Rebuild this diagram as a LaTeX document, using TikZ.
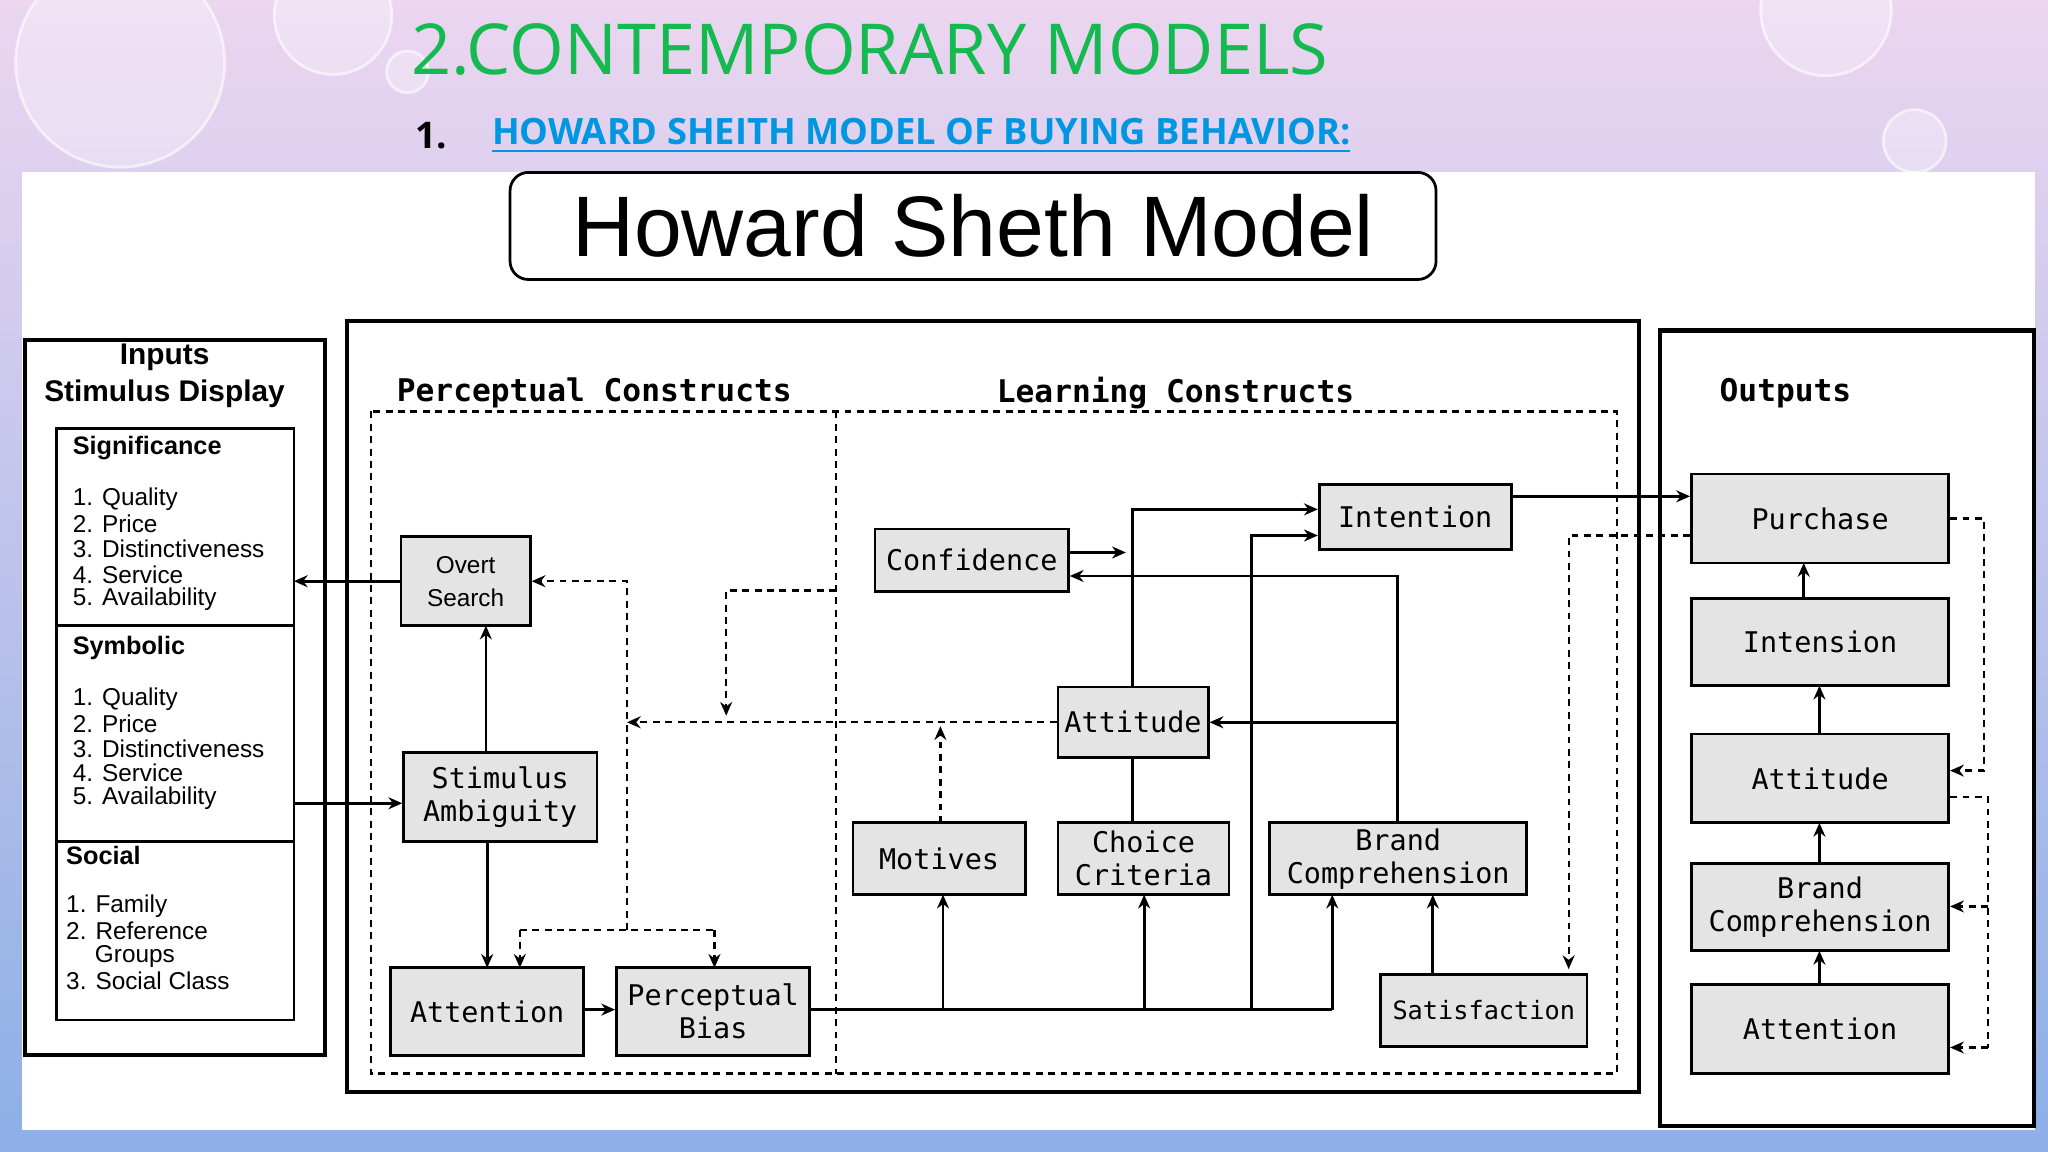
\documentclass[tikz,border=0pt]{standalone}
\usepackage{fontspec}
\setmainfont{Liberation Sans}
\newfontfamily\osans{Open Sans}
\newfontfamily\dmono{DejaVu Sans Mono}
\usetikzlibrary{arrows.meta}
\definecolor{titlegreen}{RGB}{20,185,80}
\definecolor{linkblue}{RGB}{0,150,225}
\definecolor{boxgray}{RGB}{228,228,228}
\newcommand\bx[6]{\node[box,minimum width={(#4-#2)*0.01cm},minimum height={(#5-#3)*0.01cm}] (#1) at ({(#2+#4)/2},{(#3+#5)/2}) {#6};}
\begin{document}
\begin{tikzpicture}[x=0.01cm,y=-0.01cm,
  box/.style={draw,fill=boxgray,line width=0.6pt,inner sep=0pt,align=center,font=\dmono\fontsize{6.2}{7.2}\selectfont},
  frame/.style={draw,line width=0.9pt},
  dsh/.style={line width=0.5pt,dash pattern=on 1.5pt off 1.2pt},
  ar/.style={line width=0.6pt,-{Stealth[length=3pt,width=2.6pt]}},
  dar/.style={ar,dsh},
  ln/.style={line width=0.6pt},
  item/.style={anchor=west,inner sep=0pt,font=\fontsize{5.3}{6}\selectfont},
  hdr/.style={anchor=west,inner sep=0pt,font=\bfseries\fontsize{5.5}{6}\selectfont},
  bubble/.style={fill=white,fill opacity=0.3,draw=white,draw opacity=0.6,line width=0.6pt}]
\useasboundingbox (0,0) rectangle (1568,882);
\shade[top color={rgb,255:red,236;green,214;blue,240},bottom color={rgb,255:red,140;green,175;blue,230}] (0,0) rectangle (1568,882);
\fill[bubble] (92,48) circle (80);
\fill[bubble] (255,12) circle (45);
\fill[bubble] (312,55) circle (16);
\fill[bubble] (1398,8) circle (50);
\fill[bubble] (1466,108) circle (24);
\fill[white] (17,132) rectangle (1558,865);
% titles
\node[inner sep=0pt,text=titlegreen,font=\osans\fontsize{15.3}{17}\selectfont] (t1) at (666,38) {2.CONTEMPORARY MODELS};
\node[inner sep=0pt,font=\osans\bfseries\fontsize{8}{9}\selectfont] (n1) at (330,104) {1.};
\node[anchor=west,inner sep=0pt,text=linkblue,font=\osans\bfseries\fontsize{7.9}{9}\selectfont] (t2) at (376,104) {\underline{HOWARD SHEITH MODEL OF BUYING BEHAVIOR:}};
\node[draw,rounded corners=4pt,line width=0.6pt,minimum width=709*0.01cm,minimum height=82*0.01cm,font=\fontsize{18.7}{20}\selectfont] (hs) at (745,173) {Howard Sheth Model};
% frames
\draw[frame] (19,260) rectangle (249,808);
\draw[frame] (266,246) rectangle (1255,836);
\draw[frame] (1271,253) rectangle (1557,862);
\node[inner sep=0pt,font=\bfseries\fontsize{6.5}{7}\selectfont,align=center] (inh) at (126,288) {Inputs\\[1pt]Stimulus Display};
\draw[line width=0.6pt] (43,328) rectangle (225,781);
\coordinate (inR1) at (225,445);
\coordinate (inR2) at (225,615);
\draw[line width=0.6pt] (43,479) -- (225,479) (43,644) -- (225,644);
\node[hdr] (h1) at (55,343) {Significance};
\node[item] at (55,382) {1. Quality};
\node[item] at (55,401) {2. Price};
\node[item] at (55,420) {3. Distinctiveness};
\node[item] at (55,440) {4. Service};
\node[item] at (55,459) {5. Availability};
\node[hdr] (h2) at (55,496) {Symbolic};
\node[item] at (55,535) {1. Quality};
\node[item] at (55,554) {2. Price};
\node[item] at (55,573) {3. Distinctiveness};
\node[item] at (55,592) {4. Service};
\node[item] at (55,611) {5. Availability};
\node[hdr] (h3) at (50,655) {Social};
\node[item] at (50,694) {1. Family};
\node[item] at (50,713) {2. Reference};
\node[item] at (72,732) {Groups};
\node[item] at (50,751) {3. Social Class};
% dashed inner
\draw[dsh] (284,315) rectangle (1238,822);
\draw[dsh] (640,315) -- (640,822);
\node[inner sep=0pt,font=\dmono\bfseries\fontsize{6.8}{7}\selectfont] (pc) at (455,301) {Perceptual Constructs};
\node[inner sep=0pt,font=\dmono\bfseries\fontsize{6.8}{7}\selectfont] (lc) at (900,301) {Learning Constructs};
\node[inner sep=0pt,font=\dmono\bfseries\fontsize{6.8}{7}\selectfont] (oc) at (1367,301) {Outputs};
% boxes
\bx{os}{307}{411}{406}{479}{\fontsize{5.3}{6}\selectfont\rmfamily Overt\\\fontsize{5.3}{6}\selectfont\rmfamily Search}
\bx{sa}{309}{576}{457}{644}{Stimulus\\Ambiguity}
\bx{at}{299}{741}{447}{808}{Attention}
\bx{pb}{472}{741}{620}{808}{Perceptual\\Bias}
\bx{cf}{670}{405}{818}{453}{Confidence}
\bx{in}{1010}{371}{1157}{421}{Intention}
\bx{au}{810}{526}{925}{580}{Attitude}
\bx{mo}{653}{630}{785}{685}{Motives}
\bx{cc}{810}{630}{941}{685}{Choice\\Criteria}
\bx{bc}{972}{630}{1169}{685}{Brand\\Comprehension}
\bx{sf}{1057}{746}{1215}{801}{\fontsize{5.5}{6}\selectfont Satisfaction}
\bx{pu}{1295}{363}{1492}{431}{Purchase}
\bx{oi}{1295}{458}{1492}{525}{Intension}
\bx{oa}{1295}{562}{1492}{630}{Attitude}
\bx{ob}{1295}{661}{1492}{728}{Brand\\Comprehension}
\bx{ot}{1295}{754}{1492}{822}{Attention}
% perceptual arrows
\draw[ar] (os.west |- inR1) -- (inR1);
\draw[ar] (inR2) -- (sa.west |- inR2);
\draw[ar] (372,576) -- (372,479);
\draw[ar] (373,644) -- (373,741);
\draw[ar] (at.east |- 0,773) -- (pb.west |- 0,773);
\coordinate (dj) at (480,712);
\draw[dar] (dj) -- (480,445) -- (os.east |- 0,445);
\draw[dsh] (398,712) -- (547,712);
\draw[dar] (398,712) -- (398,741);
\draw[dar] (547,712) -- (547,741);
\draw[dar] (au.west) -- (480,553);
\draw[dar] (640,452) -- (556,452) -- (556,548);
\draw[dar] (720,630) -- (720,556);
% learning
\draw[ln] (pb.east |- 0,773) -- (1020,773);
\draw[ar] (722,773) -- (722,685);
\draw[ar] (876,773) -- (876,685);
\draw[ar] (958,773) -- (958,410) -- (in.west |- 0,410);
\draw[ar] (1020,773) -- (1020,685);
\draw[ar] (1097,746) -- (1097,685);
\draw[ln] (867,630) -- (867,580);
\draw[ar] (867,526) -- (867,390) -- (in.west |- 0,390);
\draw[ar] (cf.east |- 0,423) -- (862,423);
\draw[ar] (1070,630) -- (1070,441) -- (cf.east |- 0,441);
\draw[ar] (1070,553) -- (au.east);
\draw[ar] (in.east |- 0,380) -- (pu.west |- 0,380);
\draw[dar] (pu.west |- 0,410) -- (1201,410) -- (1201,742);
% outputs
\draw[ar] (1381,458) -- (1381,431);
\draw[ar] (1393,562) -- (1393,525);
\draw[ar] (1393,661) -- (1393,630);
\draw[ar] (1393,754) -- (1393,728);
\draw[dar] (pu.east |- 0,397) -- (1519,397) -- (1519,590) -- (oa.east |- 0,590);
\draw[dsh] (oa.east |- 0,610) -- (1522,610) -- (1522,802);
\draw[dar] (1522,802) -- (ot.east |- 0,802);
\draw[dar] (1522,694) -- (ob.east |- 0,694);
\end{tikzpicture}
\end{document}
